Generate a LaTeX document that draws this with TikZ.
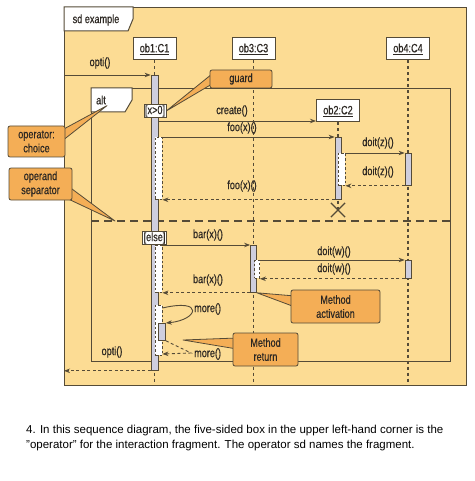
\documentclass[tikz,border=0pt]{standalone}
\usepackage{fontspec}
\setmainfont{Liberation Sans}
\newfontfamily\narrowsans[FakeStretch=0.76, FakeBold=0.5]{Liberation Sans}
\usetikzlibrary{arrows.meta, positioning, calc, shapes.misc}

\definecolor{sdyellow}{RGB}{252,220,148}
\definecolor{sdline}{RGB}{85,75,55}
\definecolor{sdnote}{RGB}{244,174,86}
\definecolor{sdbar}{RGB}{206,206,222}
\definecolor{sdtext}{RGB}{45,40,35}

\tikzset{
  diag/.style    = {font=\narrowsans\fontsize{12}{13}\selectfont, text=sdtext, inner sep=1pt},
  head/.style    = {draw=sdline, fill=white, line width=1pt,
                    minimum width=43pt, minimum height=22pt, inner sep=0pt},
  life/.style    = {draw=sdline, line width=1.2pt, dash pattern=on 3pt off 3pt},
  act/.style     = {draw=sdline, fill=sdbar, line width=0.8pt, inner sep=0pt, anchor=north},
  subact/.style  = {draw=sdline, fill=white, line width=0.8pt,
                    dash pattern=on 2.5pt off 2pt, inner sep=0pt, anchor=north},
  msg/.style     = {draw=sdline, line width=0.9pt, -{Stealth[length=6pt,width=4.5pt]}},
  reply/.style   = {msg, dash pattern=on 3pt off 2.5pt},
  note/.style    = {draw=sdline, fill=sdnote, line width=0.8pt, rounded corners=2pt,
                    align=center, inner sep=0pt, text=sdtext,
                    font=\narrowsans\fontsize{12}{14}\selectfont},
  pointer/.style = {draw=sdline, fill=sdnote, line width=0.8pt, line join=round},
  tag/.style     = {diag, fill=white, draw=sdline, line width=0.5pt}
}

\begin{document}
\begin{tikzpicture}[x=1pt, y=-1pt]
\useasboundingbox (0,0) rectangle (474,481);

% Frame and operators
\node[draw=sdline, fill=sdyellow, line width=1.2pt, inner sep=0pt,
      minimum width=402pt, minimum height=378pt, anchor=north west] (frame) at (64,7) {};
\draw[draw=sdline, fill=white, line width=1pt]
    (frame.north west) -- ++(69,0) -- ++(0,12) -- ++(-5,12) -- ++(-64,0) -- cycle;
\node[diag] (sdname) at (96,20) {sd example};

\node[draw=sdline, line width=1pt, inner sep=0pt,
      minimum width=359pt, minimum height=273pt, anchor=north west] (alt) at (91,88) {};
\draw[draw=sdline, fill=white, line width=1pt]
    (alt.north west) -- ++(41,0) -- ++(0,12) -- ++(-7,12) -- ++(-34,0) -- cycle;
\node[diag] (altname) at (101,100) {alt};

\coordinate (sepy) at (0,221);
\draw[draw=sdline, line width=1.2pt, dash pattern=on 8pt off 5pt]
    (alt.west |- sepy) -- (alt.east |- sepy);

% Lifelines
\coordinate (bottom) at (0,382);
\node[head, diag] (ob1) at (154.5,49) {\underline{ob1:C1}};
\node[head, diag] (ob3) at (253.5,49) {\underline{ob3:C3}};
\node[head, diag] (ob4) at (408,49) {\underline{ob4:C4}};
\node[head, diag] (ob2) at (338,111) {\underline{ob2:C2}};
\node[draw=sdline, cross out, line width=1.2pt, minimum size=13pt, inner sep=0pt] (end2) at (338,210) {};

\draw[life] (ob1.south) -- (ob1.south |- bottom);
\draw[life] (ob3.south) -- (ob3.south |- bottom);
\draw[life] (ob4.south) -- (ob4.south |- bottom);
\draw[life] (ob2.south) -- (end2.center);

% Activations
\node[act, minimum width=7pt, minimum height=295pt] (act1) at (154.5,75) {};
\node[subact, minimum width=7pt, minimum height=62pt] (act1a) at (158.5,137) {};
\node[subact, minimum width=7pt, minimum height=47pt] (act1b) at (158.5,245) {};
\node[subact, minimum width=7pt, minimum height=50pt] (act1c) at (158.5,305) {};
\node[act, minimum width=7pt, minimum height=17pt] (act1d) at (162,323) {};

\node[act, minimum width=6pt, minimum height=62pt] (act2) at (338,137) {};
\node[subact, minimum width=7pt, minimum height=32pt] (act2a) at (341.5,153) {};
\node[act, minimum width=6pt, minimum height=32pt] (act4a) at (408,153) {};

\node[act, minimum width=6pt, minimum height=47pt] (act3) at (253.5,245) {};
\node[subact, minimum width=5pt, minimum height=18pt] (act3a) at (257,260) {};
\node[act, minimum width=6pt, minimum height=18pt] (act4b) at (408,260) {};

% Messages, case [x>0]
\draw[msg] (frame.west |- act1.north) -- (act1.north west);
\draw[msg] (act1.east |- 0,121) -- (ob2.west |- 0,121);
\draw[msg] (act1a.north east) -- (act2.north west);
\draw[msg] (act2a.north east) -- (act4a.north west);
\draw[reply] (act4a.south west) -- (act2a.south east);
\draw[reply] (act2.south west) -- (act1a.south east);

\node[diag] at (100,63) {opti()};
\node[diag] at (232,111) {create()};
\node[diag] at (242,128) {foo(x)()};
\node[diag] at (378,143) {doit(z)()};
\node[diag] at (378,172) {doit(z)()};
\node[diag] at (242,186) {foo(x)()};

% Messages, case [else]
\draw[msg] (act1b.north east) -- (act3.north west);
\draw[msg] (act3a.north east) -- (act4b.north west);
\draw[reply] (act4b.south west) -- (act3a.south east);
\draw[reply] (act3.south west) -- (act1b.south east);
\draw[msg] (act1c.east |- 0,308) .. controls (205,298) and (198,320) .. (act1d.north east);
\draw[reply] (act1d.south east) -- (191,353) -- (act1c.east |- 0,354);
\draw[reply] (act1.south west) -- (frame.west |- act1.south);

\node[diag] at (208,235) {bar(x)()};
\node[diag] at (334,252) {doit(w)()};
\node[diag] at (334,269) {doit(w)()};
\node[diag] at (208,280) {bar(x)()};
\node[diag, anchor=west] at (193,309) {more()};
\node[diag, anchor=west] at (193,354) {more()};
\node[diag] at (112,352) {opti()};

% Guards
\node[tag] (guard1) at (155,111) {[x>0]};
\node[tag] (guard2) at (154.5,238) {[else]};

% Notes
\draw[pointer] (212,74) -- (guard1.east) -- (212,84) -- cycle;
\node[note, minimum width=62pt, minimum height=18pt] (nguard) at (241,79) {guard};

\draw[pointer] (62,130) -- (altname.south east) -- (62,141) -- cycle;
\node[note, minimum width=57pt, minimum height=31pt] (nchoice) at (36.5,141.5) {operator:\\choice};

\draw[pointer] (68,186) -- (115,221) -- (64,197) -- cycle;
\node[note, minimum width=63pt, minimum height=32pt] (nsep) at (40.5,184) {operand\\separator};

\draw[pointer] (295,296) -- (act3.south east) -- (295,307) -- cycle;
\node[note, minimum width=89pt, minimum height=33pt] (nact) at (335.5,306.5) {Method\\activation};

\draw[pointer] (237,338) -- (183,340) -- (237,349) -- cycle;
\node[note, minimum width=65pt, minimum height=33pt] (nret) at (265.5,349.5) {Method\\return};

% Caption
\node[anchor=north west, align=left, inner sep=0pt,
      font=\fontsize{11.5}{15}\selectfont] (caption) at (26,425)
  {4. In this sequence diagram, the five-sided box in the upper left-hand corner is the\\
   "operator" for the interaction fragment. The operator sd names the fragment.};
\end{tikzpicture}
\end{document}
